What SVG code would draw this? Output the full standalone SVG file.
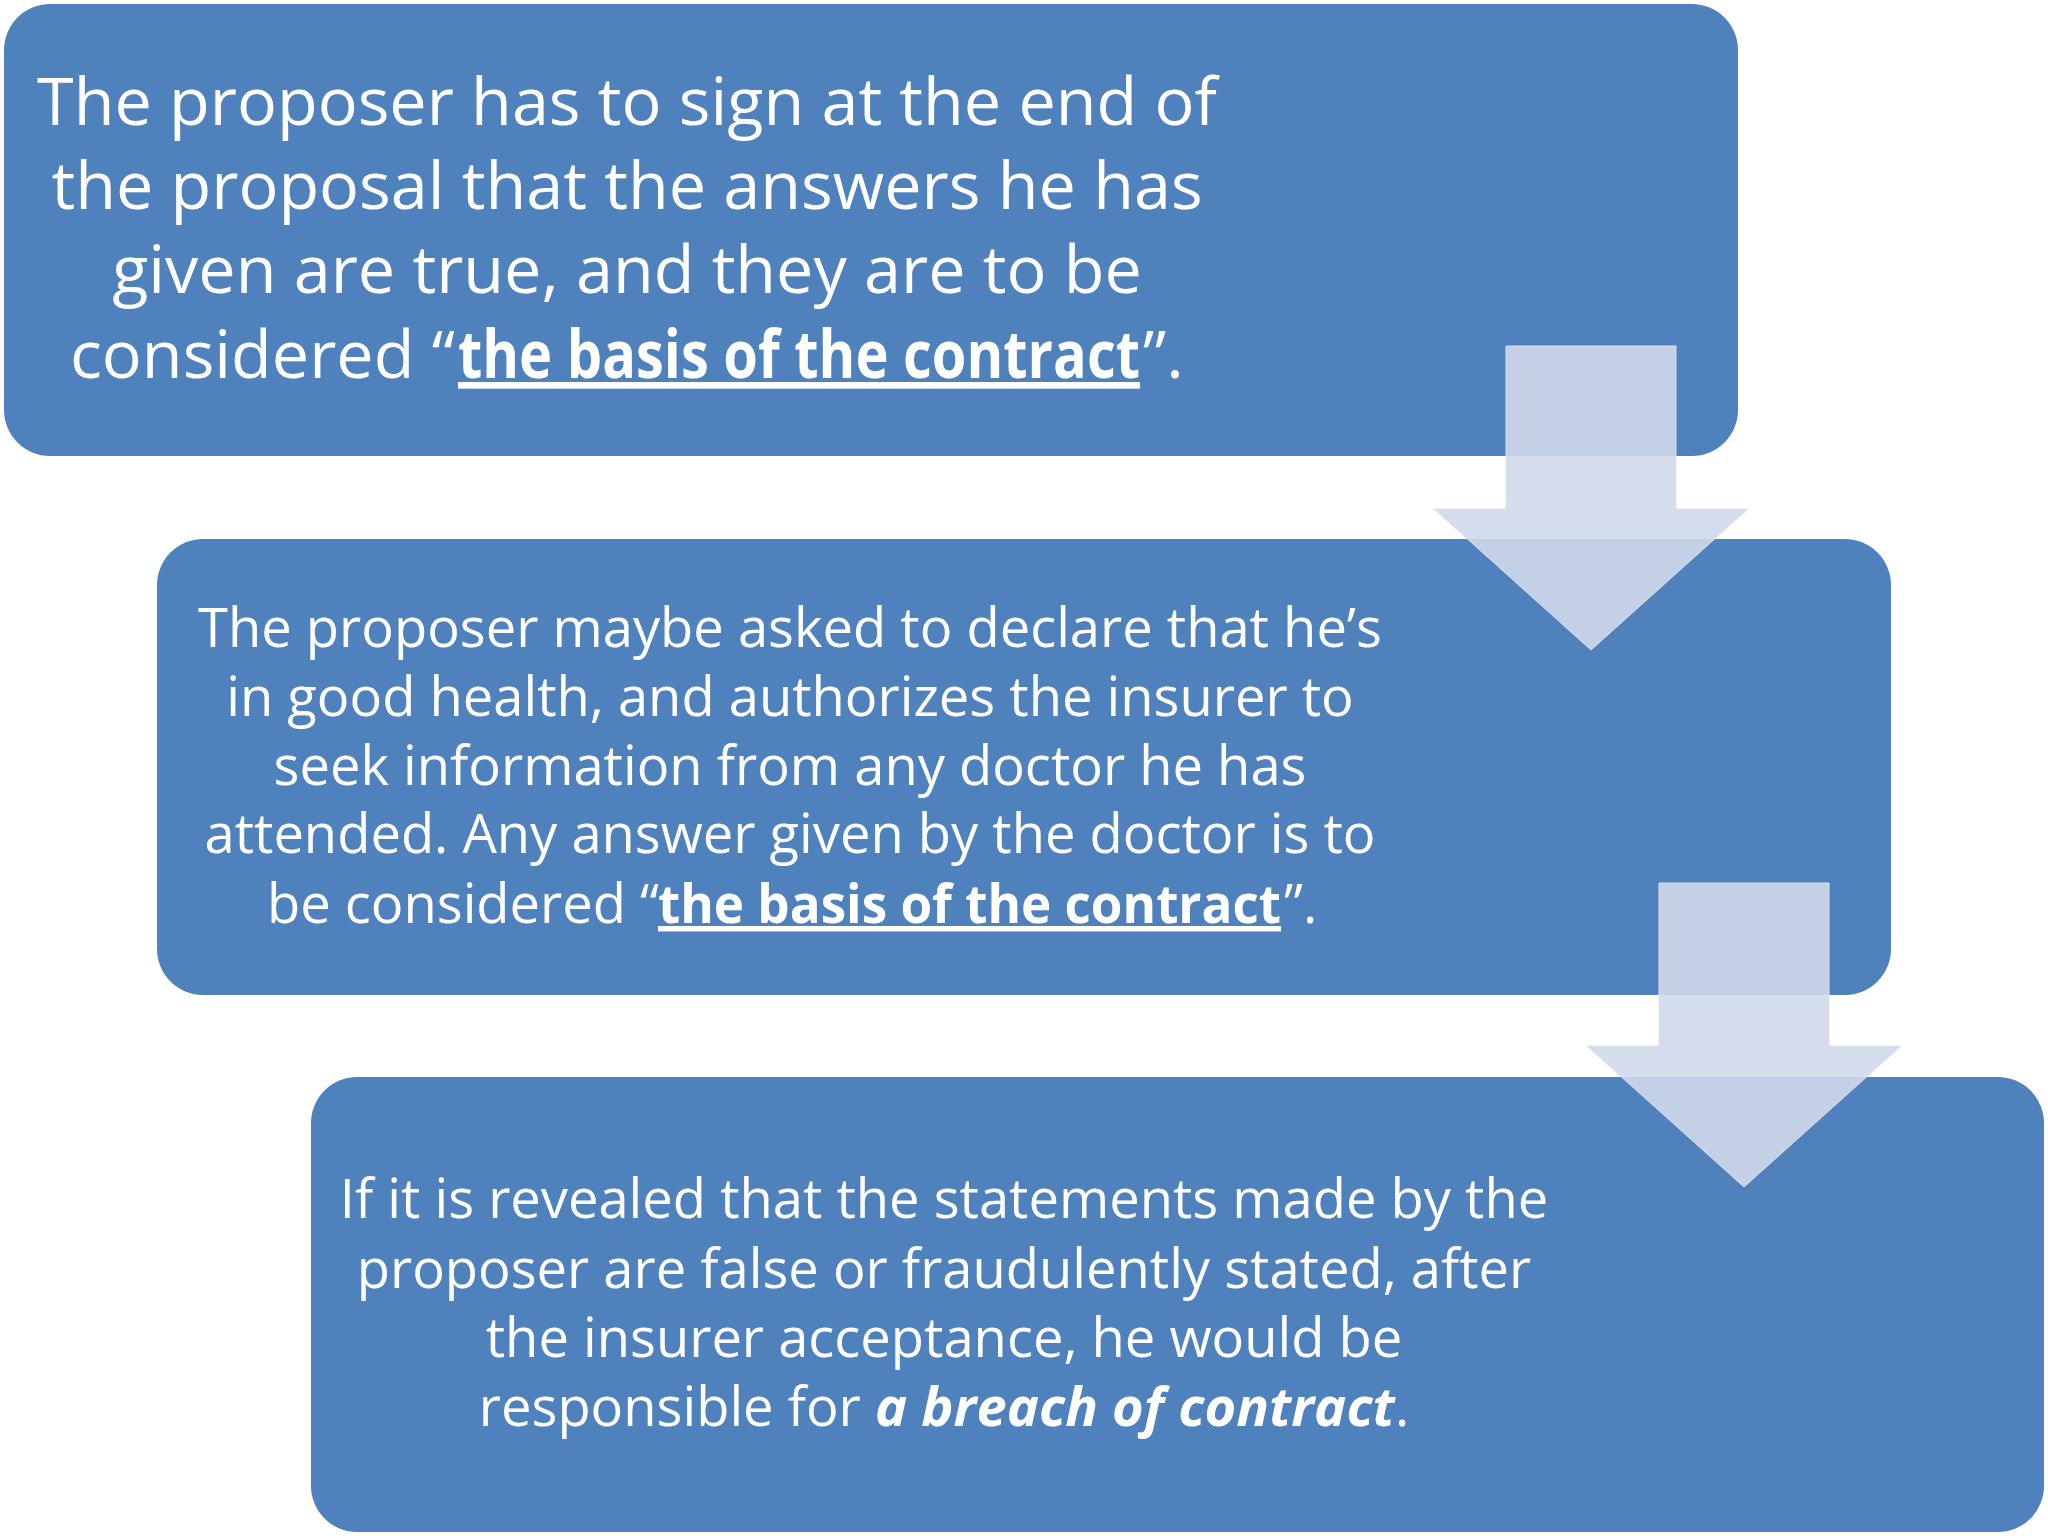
<svg xmlns="http://www.w3.org/2000/svg" width="2048" height="1536" viewBox="0 0 2048 1536">
<style>
.box{fill:#4F81BD;}
.t{font-family:"Open Sans","Noto Sans","Liberation Sans",sans-serif;fill:#FFFFFF;text-anchor:middle;}
.s{text-anchor:start;}
.t1{font-size:66.5px;}
.t2{font-size:54.3px;}
.b{font-weight:bold;text-decoration:underline;}
.bi{font-weight:bold;font-style:italic;}
.arrow{fill:#D0D8EA;fill-opacity:0.9;stroke:#DCE2EF;stroke-width:1;}
</style>
<rect width="2048" height="1536" fill="#FFFFFF"/>
<g id="node1">
<rect class="box" x="4" y="4" width="1734" height="452" rx="46" ry="46"/>
<text class="t t1" x="627" y="125">The proposer has to sign at the end of</text>
<text class="t t1" x="627" y="209">the proposal that the answers he has</text>
<text class="t t1" x="627" y="293">given are true, and they are to be</text>
<text class="t t1 s" x="70" y="378">considered “<tspan class="b" x="458" textLength="682" lengthAdjust="spacingAndGlyphs">the basis of the contract</tspan><tspan x="1143">”.</tspan></text>
</g>
<g id="node2">
<rect class="box" x="157" y="539" width="1734" height="456" rx="46" ry="46"/>
<text class="t t2" x="790" y="647">The proposer maybe asked to declare that he’s</text>
<text class="t t2" x="790" y="716">in good health, and authorizes the insurer to</text>
<text class="t t2" x="790" y="785">seek information from any doctor he has</text>
<text class="t t2" x="790" y="853">attended. Any answer given by the doctor is to</text>
<text class="t t2 s" x="267" y="923">be considered “<tspan class="b" x="658" textLength="623" lengthAdjust="spacingAndGlyphs">the basis of the contract</tspan><tspan x="1284">”.</tspan></text>
</g>
<g id="node3">
<rect class="box" x="311" y="1077" width="1733" height="455" rx="46" ry="46"/>
<text class="t t2" x="944" y="1218">If it is revealed that the statements made by the</text>
<text class="t t2" x="944" y="1288">proposer are false or fraudulently stated, after</text>
<text class="t t2" x="944" y="1357">the insurer acceptance, he would be</text>
<text class="t t2" x="944" y="1426">responsible for <tspan class="bi">a breach of contract</tspan>.</text>
</g>
<g id="connectors">
<path class="arrow" d="M1506,346 H1676 V509 H1748 L1591,650 L1434,509 H1506 Z"/>
<path class="arrow" d="M1659,883 H1829 V1046 H1901 L1744,1187 L1587,1046 H1659 Z"/>
</g>
</svg>
